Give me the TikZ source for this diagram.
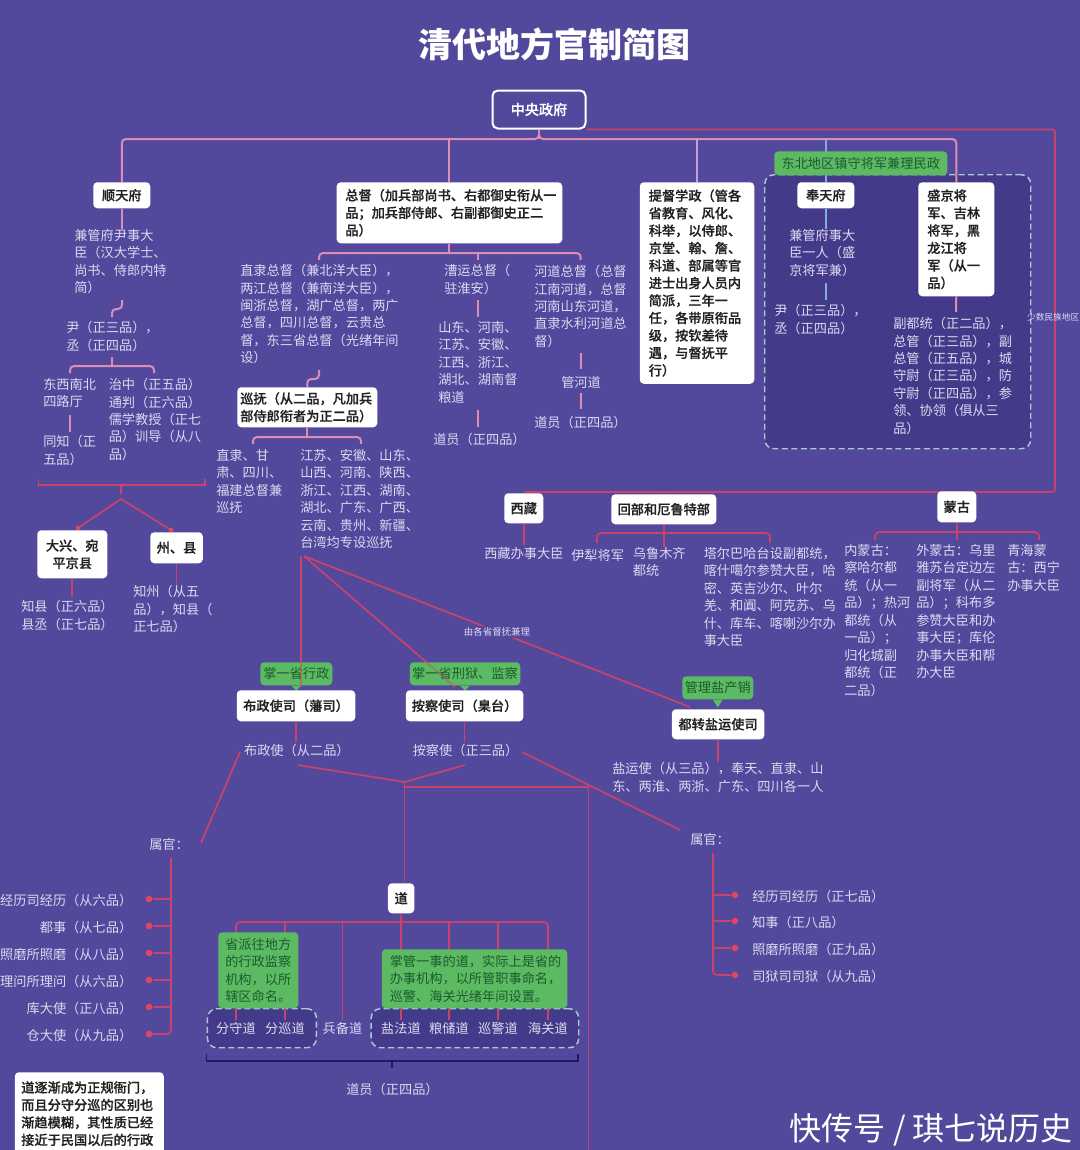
\documentclass[tikz,border=0pt]{standalone}
\usepackage{fontspec}
\setmainfont{Noto Sans CJK SC}
\newfontfamily\medf[FakeBold=0.5]{Noto Sans CJK SC Medium}
\usetikzlibrary{calc}
\definecolor{bgc}{HTML}{52489C}
\definecolor{dashfill}{HTML}{443A8A}
\definecolor{dashline}{HTML}{A9C9D6}
\definecolor{pinkc}{HTML}{DD8DB4}
\definecolor{redc}{HTML}{C8436B}
\definecolor{dotc}{HTML}{E0465F}
\definecolor{bluec}{HTML}{7FB0D8}
\definecolor{lilac}{HTML}{C6A0D2}
\definecolor{lighttext}{HTML}{DDD9F0}
\definecolor{greenc}{HTML}{5CBB62}
\definecolor{greentext}{HTML}{1C5A30}
\definecolor{darktext}{HTML}{222222}
\definecolor{navy}{HTML}{1E1A66}
\pgfdeclarelayer{bglayer}
\pgfdeclarelayer{dashlayer}
\pgfdeclarelayer{connlayer}
\pgfdeclarelayer{toplayer}
\pgfsetlayers{bglayer,dashlayer,connlayer,main,toplayer}
\tikzset{
  bodyfont/.style={font=\fontsize{9.9pt}{13.1pt}\selectfont},
  boldfont/.style={font=\fontsize{9.9pt}{13.1pt}\medf},
  tx/.style={bodyfont,text=lighttext,anchor=north west,align=left,inner sep=0pt,
    execute at begin node={\rule{0pt}{9.9pt}}},
  wh/.style 2 args={minimum width=#1*0.75pt,minimum height=#2*0.75pt},
  wbox/.style={boldfont,fill=white,text=darktext,rounded corners=3pt,anchor=north west,
    inner xsep=0pt,inner ysep=0pt,align=center},
  lb/.style 2 args={align=left,inner xsep=#2*0.75pt,text width=(#1-2*#2)*0.75pt},
  gbox/.style={bodyfont,fill=greenc,text=greentext,rounded corners=3pt,anchor=north west,
    inner xsep=0pt,inner ysep=0pt,align=center},
  dbox/.style={draw=dashline,fill=dashfill,line width=1.1pt,dash pattern=on 4.5pt off 2.6pt,
    rounded corners=7pt,anchor=north west,inner sep=0pt},
  pk/.style={draw=pinkc,line width=1.5pt},
  rd/.style={draw=redc,line width=1.3pt},
  rc/.style={rounded corners=3pt},
  dotn/.style={fill=dotc,circle,inner sep=0pt,minimum size=5pt},
}
\newcommand{\TX}[4]{\node[tx] (#1) at (#2,#3-7) {#4};}
\begin{document}
\begin{tikzpicture}[x=0.75pt,y=-0.75pt]
\useasboundingbox (0,0) rectangle (1080,1150);
\begin{pgfonlayer}{bglayer}
\fill[bgc] (0,0) rectangle (1080,1150);
\end{pgfonlayer}

% ---------- title
\node[text=white,font=\fontsize{25.5pt}{30pt}\selectfont\bfseries,inner sep=0pt] (title) at (554,44) {清代地方官制简图};

% ---------- dashed regions
\begin{pgfonlayer}{dashlayer}
\node[dbox,wh={266}{274}] (nb) at (764,174) {};
\node[dbox,wh={109}{39}] (dsh1) at (206.7,1008) {};
\node[dbox,wh={207.6}{39}] (dsh2) at (370.4,1008) {};
\end{pgfonlayer}

% ---------- top row
\node[draw=white,line width=1.5pt,rounded corners=4pt,text=white,font=\fontsize{10.6pt}{13pt}\medf,
  minimum width=93*0.75pt,minimum height=38*0.75pt,inner sep=0pt] (root) at (539,109.5) {中央政府};
\node[wbox,wh={57}{26}] (shun) at (93,182) {顺天府};
\node[wbox,wh={225.6}{61},lb={225.6}{8.6}] (zong) at (336.4,182) {总督（加兵部尚书、右都御史衔从一\\品；加兵部侍郎、右副都御史正二\\品）};
\node[wbox,wh={114.5}{201.5},lb={114.5}{9}] (ti) at (639.5,182) {提督学政（管各\\省教育、风化、\\科举，以侍郎、\\京堂、翰、詹、\\科道、部属等官\\进士出身人员内\\简派，三年一\\任，各带原衔品\\级，按钦差待\\遇，与督抚平\\行）};
\node[gbox,wh={173}{24}] (gne) at (774,151) {东北地区镇守将军兼理民政};
\node[wbox,wh={57}{26}] (feng) at (797,182) {奉天府};
\node[wbox,wh={76}{114},lb={76}{9}] (sheng) at (918,182) {盛京将\\军、吉林\\将军，黑\\龙江将\\军（从一\\品）};

% ---------- Shuntian
\TX{a1}{74}{236}{兼管府尹事大\\臣（汉大学士、\\尚书、侍郎内特\\简）}
\TX{a2}{66}{328}{尹（正三品），\\丞（正四品）}
\TX{a3}{43}{385}{东西南北\\四路厅}
\TX{a4}{108.5}{385}{治中（正五品）\\通判（正六品）\\儒学教授（正七\\品）训导（从八\\品）}
\TX{a5}{43}{442}{同知（正\\五品）}
\node[wbox,wh={70}{48}] (dax) at (37,530) {大兴、宛\\平京县};
\node[wbox,wh={52.5}{31}] (zhou) at (150,532) {州、县};
\TX{a6}{21}{607}{知县（正六品）\\县丞（正七品）}
\TX{a7}{133}{592}{知州（从五\\品），知县（\\正七品）}

% ---------- Zongdu
\TX{b1}{240}{271}{直隶总督（兼北洋大臣），\\两江总督（兼南洋大臣），\\闽浙总督，湖广总督，两广\\总督，四川总督，云贵总\\督，东三省总督（光绪年间\\设）}
\TX{b2}{444}{271}{漕运总督（\\驻淮安）}
\TX{b3}{438}{328}{山东、河南、\\江苏、安徽、\\江西、浙江、\\湖北、湖南督\\粮道}
\TX{b4}{433}{438}{道员（正四品）}
\TX{b5}{534}{272}{河道总督（总督\\江南河道，总督\\河南山东河道，\\直隶水利河道总\\督）}
\TX{b6}{561}{381}{管河道}
\TX{b7}{534}{421}{道员（正四品）}
\node[wbox,wh={140}{40},lb={140}{3}] (xun) at (237,387) {巡抚（从二品，凡加兵\\部侍郎衔者为正二品）};
\TX{b8}{216}{456}{直隶、甘\\肃、四川、\\福建总督兼\\巡抚}
\TX{b9}{300}{456}{江苏、安徽、山东、\\山西、河南、陕西、\\浙江、江西、湖南、\\湖北、广东、广西、\\云南、贵州、新疆、\\台湾均专设巡抚}

% ---------- Northeast
\TX{c1}{789}{236}{兼管府事大\\臣一人（盛\\京将军兼）}
\TX{c2}{774}{311}{尹（正三品），\\丞（正四品）}
\TX{c3}{893}{324}{副都统（正二品），\\总管（正三品），副\\总管（正五品），城\\守尉（正三品），防\\守尉（正四品），参\\领、协领（俱从三\\品）}

% ---------- minorities
\node[wbox,wh={39}{30}] (xz) at (504,493) {西藏};
\node[wbox,wh={105}{30}] (hb) at (611,494) {回部和厄鲁特部};
\node[wbox,wh={39}{31}] (mg) at (937,491) {蒙古};
\TX{e1}{484}{552}{西藏办事大臣}
\TX{e2}{571}{554}{伊犁将军}
\TX{e3}{632.6}{554}{乌鲁木齐\\都统}
\TX{e4}{703.5}{554}{塔尔巴哈台设副都统，\\喀什噶尔参赞大臣，哈\\密、英吉沙尔、叶尔\\羌、和阗、阿克苏、乌\\什、库车、喀喇沙尔办\\事大臣}
\TX{e5}{844}{551}{内蒙古：\\察哈尔都\\统（从一\\品）；热河\\都统（从\\一品）；\\归化城副\\都统（正\\二品）}
\TX{e6}{916}{551}{外蒙古：乌里\\雅苏台定边左\\副将军（从二\\品）；科布多\\参赞大臣和办\\事大臣；库伦\\办事大臣和帮\\办大臣}
\TX{e7}{1007}{551}{青海蒙\\古：西宁\\办事大臣}
\node[text=lighttext,font=\fontsize{6.5pt}{9pt}\selectfont,anchor=east,inner sep=0pt] (minor) at (1079.5,317) {少数民族地区};

% ---------- three provincial offices
\node[gbox,wh={72}{23}] (g1) at (260,662) {掌一省行政};
\node[gbox,wh={110.5}{23}] (g2) at (409.5,662) {掌一省刑狱、监察};
\node[gbox,wh={71}{23}] (g3) at (682,676) {管理盐产销};
\fill[greenc] ($(g1.south)+(-5,0)$) -- ($(g1.south)+(0,5)$) -- ($(g1.south)+(5,0)$) -- cycle;
\fill[greenc] ($(g2.south)+(-5,0)$) -- ($(g2.south)+(0,5)$) -- ($(g2.south)+(5,0)$) -- cycle;
\fill[greenc] ($(g3.south)+(-5,0)$) -- ($(g3.south)+(0,8)$) -- ($(g3.south)+(5,0)$) -- cycle;
\node[wbox,wh={118.5}{31}] (bu) at (236.5,690) {布政使司（藩司）};
\node[wbox,wh={117.4}{31}] (an) at (405.6,690) {按察使司（臬台）};
\node[wbox,wh={92.4}{30}] (yan) at (671.6,709) {都转盐运使司};
\TX{f1}{243.8}{749}{布政使（从二品）}
\TX{f2}{412.5}{749}{按察使（正三品）}
\TX{f3}{612}{769}{盐运使（从三品），奉天、直隶、山\\东、两淮、两浙、广东、四川各一人}
\node[fill=bgc,text=lighttext,font=\fontsize{7.1pt}{9pt}\selectfont,inner xsep=1pt,inner ysep=1pt] (ge) at (497,632) {由各省督抚兼理};

% ---------- left staff list
\TX{h0}{149}{843}{属官：}
\foreach \n/\y/\s in {1/899/经历司经历（从六品）,2/926/都事（从七品）,3/953/照磨所照磨（从八品）,4/980/理问所理问（从六品）,5/1007/库大使（正八品）,6/1034/仓大使（从九品）}{
  \node[tx,anchor=north east] (l\n) at (132.5,\y-7) {\s};
  \node[dotn] (ld\n) at (149,\y) {};
}
% ---------- right staff list
\TX{r0}{690}{838}{属官：}
\foreach \n/\y/\s in {1/895/经历司经历（正七品）,2/921/知事（正八品）,3/948/照磨所照磨（正九品）,4/975/司狱司司狱（从九品）}{
  \node[tx] (r\n) at (752,\y-7) {\s};
  \node[dotn] (rd\n) at (735,\y) {};
}

% ---------- Dao
\node[wbox,wh={26.3}{30}] (dao) at (387.7,883) {道};
\node[gbox,wh={80}{76},lb={80}{7}] (g4) at (218,932) {省派往地方\\的行政监察\\机构，以所\\辖区命名。};
\node[gbox,wh={185.5}{59},lb={185.5}{8}] (g5) at (381.5,949) {掌管一事的道，实际上是省的\\办事机构，以所管职事命名，\\巡警、海关光绪年间设置。};
\foreach \n/\x/\s in {1/236/分守道,2/285/分巡道,3/342.5/兵备道,4/401/盐法道,5/449/粮储道,6/498/巡警道,7/548/海关道}{
  \node[tx,anchor=north] (d\n) at (\x,1027-7) {\s};
}
\TX{dy}{346}{1088}{道员（正四品）}
\node[wbox,wh={149}{90},anchor=north west] (note) at (14.5,1072) {};
\node[boldfont,text=darktext,anchor=north west,align=left,inner sep=0pt] (notet) at (21,1081) {道逐渐成为正规衙门，\\而且分守分巡的区别也\\渐趋模糊，其性质已经\\接近于民国以后的行政};

% ---------- watermark
\node[text=white,font=\fontsize{24pt}{28pt}\selectfont,anchor=east,inner sep=0pt] (wm) at (1073,1130) {快传号 / 琪七说历史};

% ---------- connectors
\begin{pgfonlayer}{connlayer}
\coordinate (bus) at (0,139);
\draw[pk,rc] (shun.north) |- (root.south |- bus) -- (root.south |- bus) -| (sheng.north);
\draw[pk] (root.south) -- (root.south |- bus);
\draw[pk] (zong.north |- bus) -- (zong.north);
\draw[draw=lilac,line width=1.5pt] (ti.north |- bus) -- (ti.north);
\draw[draw=bluec,line width=1.5pt] (feng.north |- bus) -- (feng.north);
\draw[draw=bluec,line width=1.5pt] (feng.south) -- (feng.south |- c1.north);
\coordinate (fp1) at (826,283); \coordinate (fp2) at (826,300);
\draw[draw=bluec,line width=1.5pt] (fp1) -- (fp2);
\coordinate (sp2) at (956,312);
\draw[pk] (sheng.south) -- (sp2);
% Shuntian
\draw[pk] (shun.south) -- (shun.south |- a1.north);
\coordinate (p1) at (122,300); \coordinate (p2) at (112,317);
\draw[pk,rc] (p1) -- ++(0,9) -| (p2);
\coordinate (p3) at (112,357); \coordinate (sb) at (112,366);
\draw[pk] (p3) -- (sb);
\coordinate (sbl) at (70,373); \coordinate (sbr) at (154,373);
\draw[pk,rc] (sbl) |- (sb) -| (sbr);
\coordinate (p4) at (70,415); \coordinate (p5) at (70,432);
\draw[pk] (p4) -- (p5);
\coordinate (k1) at (38.6,479); \coordinate (k2) at (205,479); \coordinate (k3) at (121,485); \coordinate (k4) at (121,494); \coordinate (k5) at (121,499);
\draw[rd] (k1) |- (k3) -| (k2);
\draw[rd] (k3) -- (k4);
\coordinate (k6) at (78,528); \coordinate (k7) at (171,530);
\draw[rd] (k6) -- (k5) -- (k7);
\fill[dotc] (k6) circle (1.8pt);
\fill[dotc] (k7) circle (1.8pt);
\coordinate (dx1) at (72,578); \coordinate (dx2) at (72,597);
\draw[rd] (dx1) -- (dx2);
\draw[rd] (zhou.south) -- (zhou.south |- a7.north);
% Zongdu
\coordinate (zb) at (0,253);
\draw[pk] (zong.south) -- (zong.south |- zb);
\coordinate (zl) at (319,260); \coordinate (zm) at (478,260); \coordinate (zr) at (580.6,260);
\draw[pk,rc] (zl) |- (zong.south |- zb) -| (zr);
\draw[pk] (zm) -- (zm |- zb);
\coordinate (q1) at (478,300); \coordinate (q2) at (478,317);
\draw[pk] (q1) -- (q2);
\coordinate (q3) at (478,410); \coordinate (q4) at (478,427);
\draw[pk] (q3) -- (q4);
\coordinate (q5) at (580.6,353); \coordinate (q6) at (580.6,369);
\draw[pk] (q5) -- (q6);
\coordinate (q7) at (580.6,393); \coordinate (q8) at (580.6,409);
\draw[pk] (q7) -- (q8);
\coordinate (x0) at (319,370);
\draw[pk,rc] (x0) -- ++(0,9) -| (xun.north);
\coordinate (xb) at (0,437);
\draw[pk] (xun.south) -- (xun.south |- xb);
\coordinate (xl) at (253,444); \coordinate (xr) at (361,444);
\draw[pk,rc] (xl) |- (xun.south |- xb) -| (xr);
% minorities
\coordinate (rt) at (1055,129.5); \coordinate (rb) at (1055,492);
\draw[rd,rounded corners=2pt] (root.south east) -- (rt) -- (rb) -- (xz.north |- rb);
\draw[rd] (hb.north |- rb) -- (hb.north);
\draw[rd] (xz.south) -- (xz.south |- e1.north);
\coordinate (hbus) at (0,533);
\draw[rd] (hb.south) -- (hb.south |- e3.north);
\coordinate (hl) at (597,543); \coordinate (hr) at (770,543);
\draw[rd,rc] (hl) |- (hb.south |- hbus) -| (hr);
\coordinate (mbus) at (0,532);
\coordinate (ml) at (875,540); \coordinate (mr) at (1039,540);
\draw[rd] (mg.south) -- (mg.south |- ml);
\draw[rd,rc] (ml) |- (mg.south |- mbus) -| (mr);
% three offices
\coordinate (w0) at (301,556); \coordinate (w1) at (304,556);
\coordinate (w2) at (301,687); \coordinate (w3) at (455,687); \coordinate (w4) at (690,707);
\draw[rd] (w0) -- (w2);
\draw[rd] (w1) -- (w3);
\draw[rd] (w1) -- (w4);
\draw[rd] (bu.south) -- (bu.south |- f1.north);
\draw[rd] (an.south) -- (an.south |- f2.north);
\draw[rd] (yan.south) -- (yan.south |- f3.north);
% to Dao
\coordinate (j0) at (404.5,782); \coordinate (j1) at (298,765); \coordinate (j2) at (465,765);
\draw[rd] (j1) -- (j0) -- (j2);
\draw[rd] (j0) -- (dao.north -| j0);
\coordinate (j3) at (404.5,787); \coordinate (j4) at (588.6,787); \coordinate (j5) at (588.6,1150);
\draw[rd] (j3) -- (j4) -- (j5);
% staff lines
\coordinate (s1) at (240,752); \coordinate (s2) at (201,843);
\draw[rd] (s1) -- (s2);
\coordinate (s3) at (522,752); \coordinate (s4) at (680,830);
\draw[rd] (s3) -- (s4);
\coordinate (lt) at (171,858);
\draw[rd,rc] (lt) |- (ld6);
\foreach \n in {1,2,3,4,5}{ \draw[rd] (ld\n) -- (ld\n -| lt); }
\coordinate (rtp) at (713,853);
\draw[rd,rc] (rtp) |- (rd4);
\foreach \n in {1,2,3}{ \draw[rd] (rd\n) -- (rd\n -| rtp); }
% Dao bus
\coordinate (dbus) at (0,922);
\draw[rd] (dao.south) -- (d4.north);
\draw[rd,rc] (d1.north) |- (dao.south |- dbus) -| (d7.north);
\foreach \n in {2,3,5,6}{ \draw[rd] (d\n.north |- dbus) -- (d\n.north); }
% bracket
\coordinate (bl) at (206.7,1054); \coordinate (br) at (578,1054); \coordinate (bm) at (392,1061); \coordinate (bd) at (392,1068);
\draw[draw=navy,line width=1.1pt] (bl) |- (bm) -| (br);
\draw[draw=navy,line width=1.1pt] (bm) -- (bd);
\end{pgfonlayer}

% lines crossing the green labels, seen through them
\begin{pgfonlayer}{toplayer}
\draw[rd,opacity=.5] ($(w0)!.8!(w2)$) -- (w2);
\draw[rd,opacity=.5] ($(w1)!.8!(w3)$) -- (w3);
\end{pgfonlayer}
\end{tikzpicture}
\end{document}
